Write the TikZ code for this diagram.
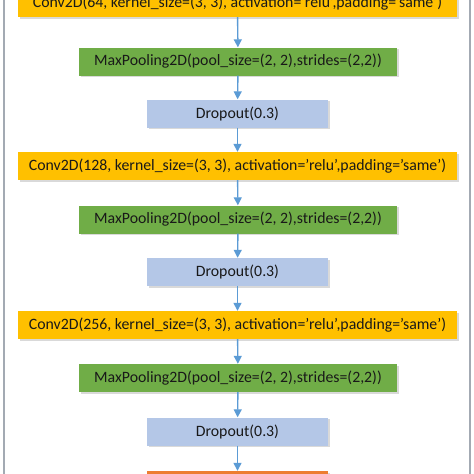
\documentclass[tikz,border=0pt]{standalone}
\usepackage{fontspec}
\setmainfont{Carlito}
\usetikzlibrary{arrows.meta}
\definecolor{convc}{HTML}{FFC000}
\definecolor{poolc}{HTML}{70AD47}
\definecolor{dropc}{HTML}{B4C7E7}
\definecolor{outc}{HTML}{ED7D31}
\definecolor{arrc}{HTML}{5B9BD5}
\definecolor{framec}{HTML}{A3AAB3}
\tikzset{
  layer/.style={minimum height=28pt, inner sep=0pt, font=\fontsize{15.8pt}{18pt}\selectfont, text=black!90,
     preaction={fill=black!15, transform canvas={xshift=1.5pt,yshift=-1.5pt}}},
  convbox/.style={layer, fill=convc, minimum width=439pt},
  poolbox/.style={layer, fill=poolc, minimum width=318pt},
  dropbox/.style={layer, fill=dropc, minimum width=181pt},
  outbox/.style={layer, fill=outc, minimum width=181pt},
  flow/.style={draw=arrc, line width=1.4pt, -{Triangle[width=8pt,length=8pt]}},
}
\begin{document}
\begin{tikzpicture}[x=1pt,y=-1pt]
\useasboundingbox (0,0) rectangle (474,474);
\fill[white] (0,0) rectangle (474,474);
\draw[framec, line width=1.2pt] (4,-10) -- (4,484);
\draw[framec, line width=1.2pt] (470,-10) -- (470,484);
\node[convbox] (c1) at (237.5,3) {Conv2D(64, kernel\_size=(3, 3), activation='relu',padding='same')};
\node[poolbox] (p1) at (238,61.5) {MaxPooling2D(pool\_size=(2, 2),strides=(2,2))};
\node[dropbox] (d1) at (237.5,113.5) {Dropout(0.3)};
\node[convbox] (c2) at (237.5,166) {Conv2D(128, kernel\_size=(3, 3), activation='relu',padding='same')};
\node[poolbox] (p2) at (238,219.5) {MaxPooling2D(pool\_size=(2, 2),strides=(2,2))};
\node[dropbox] (d2) at (237.5,272) {Dropout(0.3)};
\node[convbox] (c3) at (237.5,325) {Conv2D(256, kernel\_size=(3, 3), activation='relu',padding='same')};
\node[poolbox] (p3) at (238,378) {MaxPooling2D(pool\_size=(2, 2),strides=(2,2))};
\node[dropbox] (d3) at (237.5,431.5) {Dropout(0.3)};
\node[outbox] (o) at (237.5,485) {};
\foreach \a/\b in {c1/p1,p1/d1,d1/c2,c2/p2,p2/d2,d2/c3,c3/p3,p3/d3,d3/o}
  \draw[flow] (\a) -- (\b);
\end{tikzpicture}
\end{document}
